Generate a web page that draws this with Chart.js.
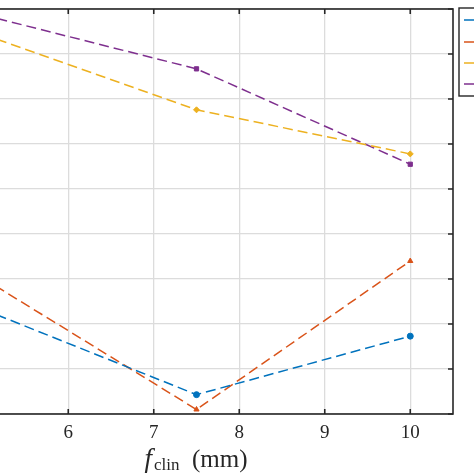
<!DOCTYPE html>
<html>
<head>
<meta charset="utf-8">
<script src="https://cdn.jsdelivr.net/npm/chart.js@4"></script>
<style>
html,body{margin:0;padding:0;width:474px;height:474px;overflow:hidden;background:#fff;}
#wrap{position:absolute;left:-80px;top:0;width:640px;height:474px;}
</style>
</head>
<body>
<div id="wrap"><canvas id="c" width="640" height="474"></canvas></div>
<script>
// ---- data ----
const xValues = [5, 7.5, 10];
const xTicks = [5, 6, 7, 8, 9, 10];
const yTicks = [0, 1, 2, 3, 4, 5, 6, 7, 8, 9];
const seriesNames = ['Series 1', 'Series 2', 'Series 3', 'Series 4'];
const blueValues = [2.33, 0.43, 1.73];
const orangeValues = [3.02, 0.10, 3.40];
const yellowValues = [8.44, 6.76, 5.78];
const purpleValues = [8.87, 7.67, 5.55];

const colors = ['#0072BD', '#D95319', '#EDB120', '#7E2F8E'];
const styles = ['circle', 'triangle', 'rectRot', 'rect'];
const allValues = [blueValues, orangeValues, yellowValues, purpleValues];

const datasets = allValues.map((vals, i) => ({
  label: seriesNames[i],
  data: xValues.map((x, j) => ({x: x, y: vals[j]})),
  borderColor: colors[i],
  backgroundColor: colors[i],
  borderWidth: 1.5,
  borderDash: [10, 5],
  pointStyle: styles[i],
  pointRadius: 3,
  pointBorderWidth: 1,
  tension: 0,
  fill: false
}));

const serif = '"Liberation Serif", "DejaVu Serif", serif';

const boxPlugin = {
  id: 'box',
  afterDraw(chart) {
    const ctx = chart.ctx;
    const a = chart.chartArea;
    const xs = chart.scales.x, ys = chart.scales.y;
    ctx.save();
    ctx.strokeStyle = '#262626';
    ctx.lineWidth = 1.6;
    ctx.setLineDash([]);
    ctx.strokeRect(a.left, a.top, a.right - a.left, a.bottom - a.top);
    const tl = 5;
    ctx.beginPath();
    xTicks.forEach(v => {
      const px = xs.getPixelForValue(v);
      ctx.moveTo(px, a.bottom); ctx.lineTo(px, a.bottom - tl);
      ctx.moveTo(px, a.top); ctx.lineTo(px, a.top + tl);
    });
    yTicks.forEach(v => {
      const py = ys.getPixelForValue(v);
      ctx.moveTo(a.right, py); ctx.lineTo(a.right - tl, py);
      ctx.moveTo(a.left, py); ctx.lineTo(a.left + tl, py);
    });
    ctx.stroke();

    // x-axis title: f_clin (mm)
    ctx.fillStyle = '#262626';
    ctx.textBaseline = 'alphabetic';
    const f1 = 'italic 27px ' + serif, f2 = '17px ' + serif, f3 = '25px ' + serif;
    ctx.font = f1; const w1 = ctx.measureText('f').width;
    ctx.font = f2; const w2 = ctx.measureText('clin').width;
    ctx.font = f3; const w3 = ctx.measureText('  (mm)').width;
    const total = w1 + 2 + w2 + w3;
    const cx = 276;
    let x0 = cx - total / 2;
    const base = 467;
    ctx.font = f1; ctx.fillText('f', x0, base); x0 += w1 + 2;
    ctx.font = f2; ctx.fillText('clin', x0, base + 3); x0 += w2;
    ctx.font = f3; ctx.fillText('  (mm)', x0, base);

    // legend box
    const lx = 539, ly = 8, lw = 95, lh = 88;
    ctx.fillStyle = '#fff';
    ctx.fillRect(lx, ly, lw, lh);
    ctx.lineWidth = 1.4;
    ctx.strokeStyle = '#262626';
    ctx.strokeRect(lx, ly, lw, lh);
    const rows = [20, 42, 63, 84];
    datasets.forEach((d, i) => {
      ctx.strokeStyle = d.borderColor;
      ctx.lineWidth = 1.5;
      ctx.beginPath();
      ctx.moveTo(lx + 5, rows[i]); ctx.lineTo(lx + 35, rows[i]);
      ctx.stroke();
      ctx.fillStyle = '#262626';
      ctx.font = '12px ' + serif;
      ctx.textBaseline = 'middle';
      ctx.fillText(d.label, lx + 40, rows[i]);
    });
    ctx.restore();
  }
};

new Chart(document.getElementById('c'), {
  type: 'line',
  data: { datasets: datasets },
  options: {
    responsive: false,
    animation: false,
    devicePixelRatio: 1,
    layout: { padding: { left: 20, right: 107, top: 9, bottom: 0 } },
    plugins: { legend: { display: false }, tooltip: { enabled: false } },
    scales: {
      x: {
        type: 'linear',
        min: 4.5, max: 10.5,
        afterBuildTicks: s => { s.ticks = xTicks.map(v => ({value: v})); },
        afterFit: s => { s.height = 60; },
        grid: { color: '#dcdcdc', lineWidth: 1.3, drawTicks: false },
        border: { display: false },
        ticks: { color: '#262626', font: { family: serif, size: 19 }, padding: 8, maxRotation: 0 }
      },
      y: {
        type: 'linear',
        min: 0, max: 9,
        afterBuildTicks: s => { s.ticks = yTicks.map(v => ({value: v})); },
        afterFit: s => { s.width = 0; },
        grid: { color: '#dcdcdc', lineWidth: 1.3, drawTicks: false },
        border: { display: false },
        ticks: { display: false }
      }
    }
  },
  plugins: [boxPlugin]
});
</script>
</body>
</html>
